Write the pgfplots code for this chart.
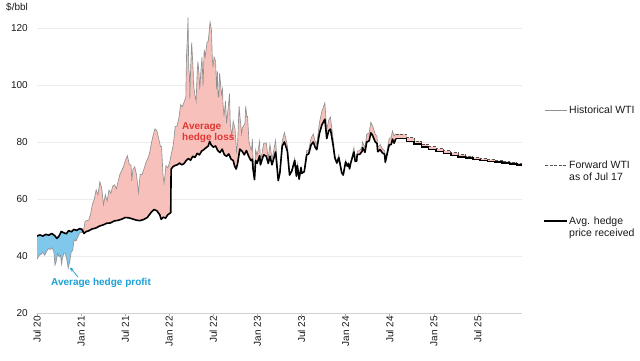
\documentclass[border=0pt]{standalone}
\usepackage{fontspec}
\setmainfont{Liberation Sans}
\usepackage{pgfplots}
\pgfplotsset{compat=1.18}
\usepackage{pgfplotstable}
\usepgfplotslibrary{fillbetween}
\usetikzlibrary{arrows.meta}
\definecolor{lossfill}{RGB}{248,192,186}
\definecolor{gainfill}{RGB}{128,199,236}
\definecolor{gaintext}{RGB}{26,160,212}
\definecolor{losstext}{RGB}{225,55,50}
\definecolor{wtigray}{RGB}{145,145,145}
\definecolor{gridc}{RGB}{236,236,236}
\definecolor{fwdgray}{RGB}{85,85,85}
\definecolor{txt}{RGB}{25,25,25}

\pgfplotstableread{
m v
0.0 38.8
0.3 40.3
0.55 40.6
0.8 41.3
1.05 40.3
1.3 41.6
1.55 42.6
1.8 42.3
2.05 42.9
2.3 41.5
2.45 36.8
2.6 38.0
2.8 40.9
3.0 39.8
3.2 40.2
3.35 37.1
3.45 39.2
3.65 41.0
3.85 40.9
4.0 39.6
4.15 37.4
4.25 35.8
4.45 38.0
4.65 41.4
4.85 41.9
5.05 45.7
5.3 45.3
5.55 46.6
5.8 48.1
6.05 48.2
6.3 48.5
6.55 52.2
6.8 52.4
7.05 52.6
7.3 54.8
7.55 58.2
7.8 60.0
8.05 63.2
8.3 61.5
8.55 66.0
8.8 64.0
9.05 58.0
9.3 61.5
9.55 59.3
9.8 63.1
10.05 62.0
10.3 64.5
10.55 65.0
10.8 63.6
11.05 66.3
11.3 68.8
11.55 70.0
11.8 71.6
12.05 73.7
12.3 75.2
12.55 72.2
12.8 71.8
12.9 66.4
13.05 70.3
13.3 71.3
13.55 68.4
13.8 62.3
14.05 68.7
14.3 68.6
14.55 70.5
14.8 72.6
15.05 74.0
15.3 75.9
15.55 79.4
15.8 82.3
16.05 84.6
16.3 84.0
16.55 81.3
16.8 78.5
16.95 78.4
17.15 68.2
17.3 65.6
17.55 71.7
17.8 70.9
18.05 72.8
18.3 76.1
18.55 79.0
18.8 85.4
19.05 85.6
19.3 88.2
19.55 93.1
19.8 92.4
20.25 95.7
20.35 110.6
20.45 115.7
20.55 123.7
20.65 106.0
20.75 103.0
20.8 95.0
20.9 105.0
21.0 112.0
21.05 114.9
21.25 105.0
21.3 100.3
21.5 96.2
21.65 94.3
21.8 104.3
21.9 108.2
22.05 103.8
22.15 98.5
22.3 104.7
22.45 109.8
22.6 99.8
22.75 112.4
22.9 110.0
23.15 115.1
23.3 115.3
23.55 122.1
23.65 120.7
23.75 118.9
23.85 109.6
23.95 106.2
24.1 109.8
24.3 108.4
24.45 98.5
24.55 104.8
24.65 95.8
24.75 95.8
24.85 104.2
25.1 96.7
25.25 98.6
25.3 93.9
25.45 89.0
25.65 94.3
25.8 86.5
25.95 90.2
26.2 97.0
26.3 86.6
26.5 81.9
26.7 87.3
26.95 84.5
27.15 76.7
27.3 79.5
27.5 92.6
27.6 89.4
27.85 82.8
27.95 85.0
28.3 86.5
28.4 92.6
28.55 88.9
28.65 89.0
28.85 80.1
29.05 77.9
29.2 77.2
29.3 81.2
29.4 74.3
29.6 67.5
29.75 77.3
29.95 75.2
30.15 78.0
30.3 80.3
30.4 72.8
30.85 79.5
31.2 79.7
31.47 74.1
31.7 79.1
31.98 73.9
32.47 80.5
32.83 66.7
33.05 69.3
33.37 80.4
33.67 83.3
34.07 78.8
34.37 68.6
34.67 70.0
35.07 74.3
35.3 68.1
35.43 72.2
35.67 67.1
35.93 71.2
36.03 69.2
36.37 69.8
36.7 77.0
36.97 77.1
37.3 81.4
37.6 82.8
37.83 80.4
38.07 79.1
38.43 86.7
38.77 90.8
39.17 93.7
39.43 84.3
39.7 87.7
39.93 88.8
40.3 81.0
40.53 75.3
40.8 72.9
41.07 75.5
41.47 69.4
41.67 68.6
42.0 73.6
42.23 71.7
42.37 72.7
42.53 70.8
42.67 72.7
43.13 78.0
43.3 73.8
43.5 73.9
43.57 76.8
43.93 77.0
44.23 78.3
44.3 80.0
44.63 77.9
44.87 82.7
45.2 83.2
45.43 86.9
45.67 85.7
46.0 82.9
46.27 81.9
46.37 78.1
46.7 79.1
47.0 77.6
47.3 77.0
47.4 73.25
47.73 78.45
47.93 81.3
48.2 81.5
48.37 83.9
48.6 82.1
48.83 82.85
}\wti

\pgfplotstableread{
m v
0.0 47.0
0.4 47.4
0.8 47.0
1.2 47.6
1.6 47.3
2.0 47.9
2.4 47.2
2.7 46.2
3.0 47.0
3.3 48.6
3.6 48.2
4.0 47.8
4.3 48.9
4.7 48.5
5.0 49.3
5.4 49.0
5.8 49.6
6.1 49.4
6.4 47.9
6.7 48.6
7.0 48.8
7.5 49.5
8.0 49.8
8.5 50.5
9.0 50.9
9.5 51.5
10.0 51.6
10.5 52.3
11.0 52.5
11.5 52.9
12.0 53.5
12.5 53.4
13.0 53.0
13.5 52.6
14.0 52.4
14.5 52.8
15.0 53.5
15.5 55.2
15.9 56.3
16.3 55.9
16.7 54.5
16.9 52.9
17.2 53.6
17.5 53.3
17.8 54.5
18.1 55.0
18.2 55.2
18.25 70.5
18.5 71.3
18.8 71.8
19.1 72.0
19.4 72.6
19.7 72.0
20.0 72.4
20.3 73.5
20.6 74.2
20.9 73.6
21.2 75.0
21.5 74.6
21.8 76.0
22.1 75.5
22.4 76.8
22.7 77.3
23.0 78.0
23.3 78.6
23.5 80.2
23.7 79.0
24.0 78.2
24.3 78.6
24.6 77.0
24.9 76.3
25.2 77.5
25.5 75.5
25.8 75.0
26.1 75.8
26.4 74.0
26.7 73.5
26.9 71.5
27.1 70.5
27.3 72.5
27.6 77.5
27.9 76.8
28.2 75.5
28.5 77.0
28.8 75.0
29.1 73.5
29.3 74.0
29.4 70.5
29.6 66.8
29.75 73.5
29.95 72.5
30.15 74.0
30.3 75.2
30.4 72.0
30.85 75.5
31.2 75.0
31.47 72.5
31.7 75.0
31.98 72.0
32.47 76.5
32.83 66.5
33.05 69.1
33.37 78.6
33.67 80.0
34.07 76.8
34.37 68.4
34.67 69.8
35.07 73.5
35.3 68.0
35.43 71.8
35.67 67.0
35.93 71.0
36.03 69.0
36.37 69.6
36.7 75.5
36.97 75.8
37.3 79.0
37.6 80.0
37.83 78.3
38.07 77.3
38.43 83.0
38.77 86.0
39.17 88.0
39.43 81.2
39.7 84.0
39.93 84.5
40.3 78.8
40.53 74.5
40.8 72.6
41.07 74.5
41.47 69.2
41.67 68.4
42.0 73.0
42.23 71.5
42.37 72.4
42.53 70.6
42.67 72.4
43.13 76.5
43.3 73.2
43.5 73.3
43.57 75.6
43.93 75.7
44.23 76.7
44.3 78.0
44.63 76.4
44.87 80.0
45.2 80.4
45.43 83.2
45.67 82.3
46.0 80.2
46.27 79.4
46.37 76.6
46.7 77.3
47.0 76.2
47.3 75.7
47.4 72.9
47.73 76.8
47.93 79.0
48.2 79.1
48.37 81.0
48.6 79.6
48.83 81.2
}\hedge

\pgfplotstableread{
m v
48.83 82.8
50.3 81.5
51.3 80.3
52.3 79.3
53.3 78.4
54.3 77.6
55.3 76.9
56.3 76.2
57.3 75.6
58.3 75.1
59.3 74.6
60.3 74.2
61.3 73.8
62.3 73.5
63.3 73.2
64.3 72.9
65.3 72.6
66.0 72.6
}\fwd

\pgfplotstableread{
m v
48.83 81.2
50.3 80.2
51.3 79.2
52.3 78.2
53.3 77.4
54.3 76.6
55.3 76.0
56.3 75.3
57.3 74.8
58.3 74.3
59.3 73.9
60.3 73.5
61.3 73.2
62.3 72.9
63.3 72.6
64.3 72.3
65.3 72.0
66.0 72.0
}\hedgefwd

\begin{document}
\begin{tikzpicture}
\begin{axis}[
  at={(0pt,0pt)}, anchor=south west,
  scale only axis, width=485pt, height=299.25pt,
  xmin=0, xmax=66, ymin=20, ymax=125,
  axis lines*=left,
  x axis line style={draw=black!18, line width=0.6pt},
  y axis line style={draw=none},
  ytick={20,40,60,80,100,120},
  ymajorgrids, grid style={gridc, line width=0.6pt},
  ytick style={draw=none},
  xtick={0,6,12,18,24,30,36,42,48,54,60},
  xticklabels={Jul 20,Jan 21,Jul 21,Jan 22,Jul 22,Jan 23,Jul 23,Jan 24,Jul 24,Jan 25,Jul 25},
  tick align=outside, major tick length=3pt,
  xtick style={draw=black!30, line width=0.5pt},
  every tick label/.append style={font=\fontsize{10}{12}\selectfont, text=txt},
  xticklabel style={rotate=90, anchor=east, inner sep=0pt},
  yticklabel style={anchor=east, inner sep=0pt, xshift=-6pt},
  /pgf/number format/assume math mode=true,
]
\addplot[draw=none, name path=wtiP] table[x=m,y=v] {\wti};
\addplot[draw=none, name path=hedgeP] table[x=m,y=v] {\hedge};
\addplot[draw=none, const plot, name path=fwdP] table[x=m,y=v] {\fwd};
\addplot[draw=none, const plot, name path=hedgefwdP] table[x=m,y=v] {\hedgefwd};

\addplot[fill=gainfill, draw=none] fill between[of=wtiP and hedgeP, soft clip={domain=0:6.3}];
\addplot[fill=lossfill, draw=none] fill between[of=wtiP and hedgeP, soft clip={domain=6.3:48.83}];
\addplot[fill=lossfill, draw=none] fill between[of=fwdP and hedgefwdP];

\addplot[wtigray, line width=0.65pt] table[x=m,y=v] {\wti};
\addplot[fwdgray, const plot, line width=0.9pt, dash pattern=on 3pt off 1.5pt] table[x=m,y=v] {\fwd};
\addplot[black, line width=1.6pt, line join=round] table[x=m,y=v] {\hedge};
\addplot[black, const plot, line width=1.6pt] table[x=m,y=v] {\hedgefwd};
\end{axis}

% unit label
\node[anchor=base west, inner sep=0pt, font=\fontsize{10}{12}\selectfont, text=txt] at (-31pt,302.4pt) {\$/bbl};

% annotations
\node[anchor=base west, inner sep=0pt, font=\bfseries\fontsize{10}{12}\selectfont, text=losstext] at (145pt,183.9pt) {Average};
\node[anchor=base west, inner sep=0pt, font=\bfseries\fontsize{10}{12}\selectfont, text=losstext] at (145pt,172.4pt) {hedge loss};
\node[anchor=base west, inner sep=0pt, font=\bfseries\fontsize{10}{12}\selectfont, text=gaintext] at (14pt,27.4pt) {Average hedge profit};
\draw[gaintext, line width=0.7pt, -{Stealth[length=4pt,width=3.5pt]}] (41pt,36pt) -- (33pt,45.5pt);

% legend
\draw[wtigray, line width=0.6pt] (508pt,203pt) -- (530pt,203pt);
\node[anchor=base west, inner sep=0pt, font=\fontsize{10.5}{12.5}\selectfont, text=txt] at (532pt,199.2pt) {Historical WTI};
\draw[fwdgray, line width=0.9pt, dash pattern=on 3pt off 1.5pt] (508pt,148pt) -- (530pt,148pt);
\node[anchor=base west, inner sep=0pt, font=\fontsize{10.5}{12.5}\selectfont, text=txt] at (532pt,144.2pt) {Forward WTI};
\node[anchor=base west, inner sep=0pt, font=\fontsize{10.5}{12.5}\selectfont, text=txt] at (532pt,132.2pt) {as of Jul 17};
\draw[black, line width=1.6pt] (507pt,92pt) -- (530pt,92pt);
\node[anchor=base west, inner sep=0pt, font=\fontsize{10.5}{12.5}\selectfont, text=txt] at (532pt,88.2pt) {Avg. hedge};
\node[anchor=base west, inner sep=0pt, font=\fontsize{10.5}{12.5}\selectfont, text=txt] at (532pt,76.2pt) {price received};

\pgfresetboundingbox
\path[use as bounding box] (-37pt,-47pt) rectangle (603pt,313pt);
\end{tikzpicture}
\end{document}
